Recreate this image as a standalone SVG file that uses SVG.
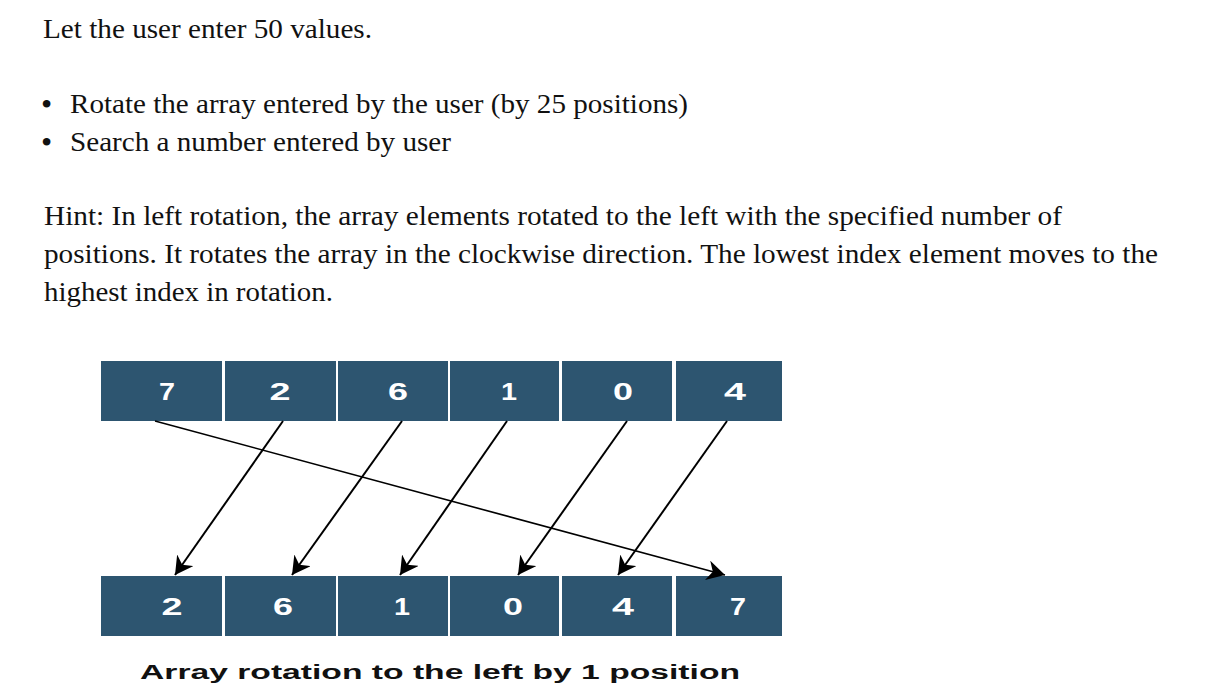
<svg xmlns="http://www.w3.org/2000/svg" width="1212" height="688" viewBox="0 0 1212 688">
<style>
.t{font-family:"Liberation Serif","Times New Roman",serif;font-size:27px;fill:#111}
.b{font-family:"Liberation Serif","Times New Roman",serif;font-size:32px;fill:#111}
.cell{fill:#2d5570}
.d{font-family:"Liberation Sans",Arial,sans-serif;font-weight:bold;font-size:24px;fill:#fff;text-anchor:middle}
.cap{font-family:"Liberation Sans",Arial,sans-serif;font-weight:bold;font-size:20px;fill:#111}
.arr{stroke:#000;stroke-width:2;fill:none;marker-end:url(#ah)}
</style>
<defs>
<marker id="ah" viewBox="0 0 10 10" refX="10" refY="5" markerUnits="userSpaceOnUse" markerWidth="18" markerHeight="20" orient="auto" preserveAspectRatio="none">
<path d="M0,0 L10,5 L0,10 L3,5 Z" fill="#000"/>
</marker>
</defs>
<rect width="1212" height="688" fill="#fff"/>
<g id="text">
<text class="t" x="43" y="38" textLength="329" lengthAdjust="spacingAndGlyphs">Let the user enter 50 values.</text>
<text class="b" x="41" y="115">•</text>
<text class="t" x="70" y="113" textLength="618" lengthAdjust="spacingAndGlyphs">Rotate the array entered by the user (by 25 positions)</text>
<text class="b" x="41" y="153">•</text>
<text class="t" x="70" y="151" textLength="381" lengthAdjust="spacingAndGlyphs">Search a number entered by user</text>
<text class="t" x="44" y="225" textLength="1018" lengthAdjust="spacingAndGlyphs">Hint: In left rotation, the array elements rotated to the left with the specified number of</text>
<text class="t" x="44" y="263" textLength="1114" lengthAdjust="spacingAndGlyphs">positions. It rotates the array in the clockwise direction. The lowest index element moves to the</text>
<text class="t" x="44" y="301" textLength="289" lengthAdjust="spacingAndGlyphs">highest index in rotation.</text>
</g>
<g id="top-array">
<g id="t0"><rect class="cell" x="101" y="361" width="121" height="60"/><text class="d" x="167" y="400" textLength="16" lengthAdjust="spacingAndGlyphs">7</text></g>
<g id="t1"><rect class="cell" x="225" y="361" width="111" height="60"/><text class="d" x="280" y="400" textLength="21" lengthAdjust="spacingAndGlyphs">2</text></g>
<g id="t2"><rect class="cell" x="338" y="361" width="110" height="60"/><text class="d" x="398" y="400" textLength="20" lengthAdjust="spacingAndGlyphs">6</text></g>
<g id="t3"><rect class="cell" x="450" y="361" width="109" height="60"/><text class="d" x="509" y="400" textLength="16" lengthAdjust="spacingAndGlyphs">1</text></g>
<g id="t4"><rect class="cell" x="562" y="361" width="110" height="60"/><text class="d" x="623" y="400" textLength="20" lengthAdjust="spacingAndGlyphs">0</text></g>
<g id="t5"><rect class="cell" x="676" y="361" width="106" height="60"/><text class="d" x="735" y="400" textLength="22" lengthAdjust="spacingAndGlyphs">4</text></g>
</g>
<g id="bottom-array">
<g id="b0"><rect class="cell" x="101" y="576" width="121" height="60"/><text class="d" x="172" y="615" textLength="21" lengthAdjust="spacingAndGlyphs">2</text></g>
<g id="b1"><rect class="cell" x="225" y="576" width="111" height="60"/><text class="d" x="283" y="615" textLength="20" lengthAdjust="spacingAndGlyphs">6</text></g>
<g id="b2"><rect class="cell" x="338" y="576" width="110" height="60"/><text class="d" x="402" y="615" textLength="16" lengthAdjust="spacingAndGlyphs">1</text></g>
<g id="b3"><rect class="cell" x="450" y="576" width="109" height="60"/><text class="d" x="513" y="615" textLength="20" lengthAdjust="spacingAndGlyphs">0</text></g>
<g id="b4"><rect class="cell" x="562" y="576" width="110" height="60"/><text class="d" x="623" y="615" textLength="22" lengthAdjust="spacingAndGlyphs">4</text></g>
<g id="b5"><rect class="cell" x="676" y="576" width="106" height="60"/><text class="d" x="738" y="615" textLength="16" lengthAdjust="spacingAndGlyphs">7</text></g>
</g>
<g id="connectors">
<line class="arr" x1="155" y1="421" x2="725" y2="575" style="stroke-width:1.6"/>
<line class="arr" x1="283" y1="421" x2="175" y2="575"/>
<line class="arr" x1="402" y1="421" x2="292" y2="575"/>
<line class="arr" x1="507" y1="421" x2="400" y2="575"/>
<line class="arr" x1="627" y1="421" x2="518" y2="575"/>
<line class="arr" x1="727" y1="421" x2="618" y2="575"/>
</g>
<text class="cap" x="140" y="679" textLength="600" lengthAdjust="spacingAndGlyphs">Array rotation to the left by 1 position</text>
</svg>
